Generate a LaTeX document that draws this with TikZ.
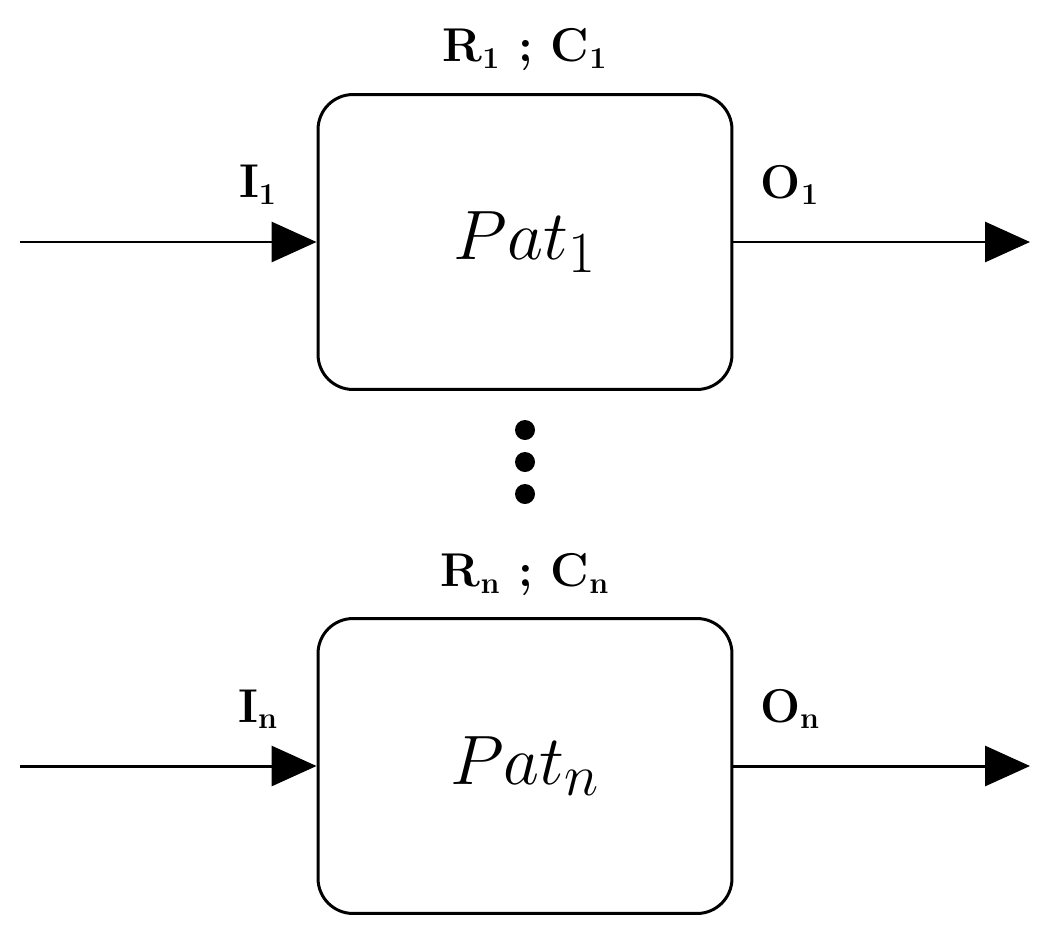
\documentclass[tikz,border=0pt]{standalone}
\usepackage{graphicx}
\usetikzlibrary{arrows.meta,positioning}
\newcommand{\patname}[1]{\scalebox{1.6}{$Pat_{#1}$}}
\begin{document}
\begin{tikzpicture}[x=0.02cm,y=-0.02cm,line width=1.7pt,
      pat/.style={draw,rounded corners=0.7cm,minimum width=8.28cm,minimum height=5.9cm,
        font=\Huge},
      lbl/.style={font=\fontsize{27}{29}\selectfont\bfseries},
      flow/.style={-{Triangle[length=0.9cm,width=0.8cm]}}]
      \useasboundingbox (0,0) rectangle (1053,943);
      % first pattern
      \node[pat] (p1) at (525,242) {\patname{1}};
      \coordinate (i1) at (20,242);
      \coordinate (o1) at (1030,242);
      \draw[flow] (i1) -- (p1.west);
      \draw[flow] (p1.east) -- (o1);
      \node[lbl] (rc1) at (525,50) {R$_\mathbf{1}$ ; C$_\mathbf{1}$};
      \node[lbl] (in1) at (258,185) {I$_\mathbf{1}$};
      \node[lbl] (out1) at (790,185) {O$_\mathbf{1}$};
      % dots
      \foreach \y in {430,462,494}
        \fill (525,\y) circle (10);
      % last pattern
      \node[pat] (pn) at (525,766) {\patname{n}};
      \coordinate (in) at (20,766);
      \coordinate (on) at (1030,766);
      \draw[flow] (in) -- (pn.west);
      \draw[flow] (pn.east) -- (on);
      \node[lbl] (rcn) at (525,575) {R$_\mathbf{n}$ ; C$_\mathbf{n}$};
      \node[lbl] (inn) at (258,709) {I$_\mathbf{n}$};
      \node[lbl] (outn) at (790,709) {O$_\mathbf{n}$};
\end{tikzpicture}
\end{document}
